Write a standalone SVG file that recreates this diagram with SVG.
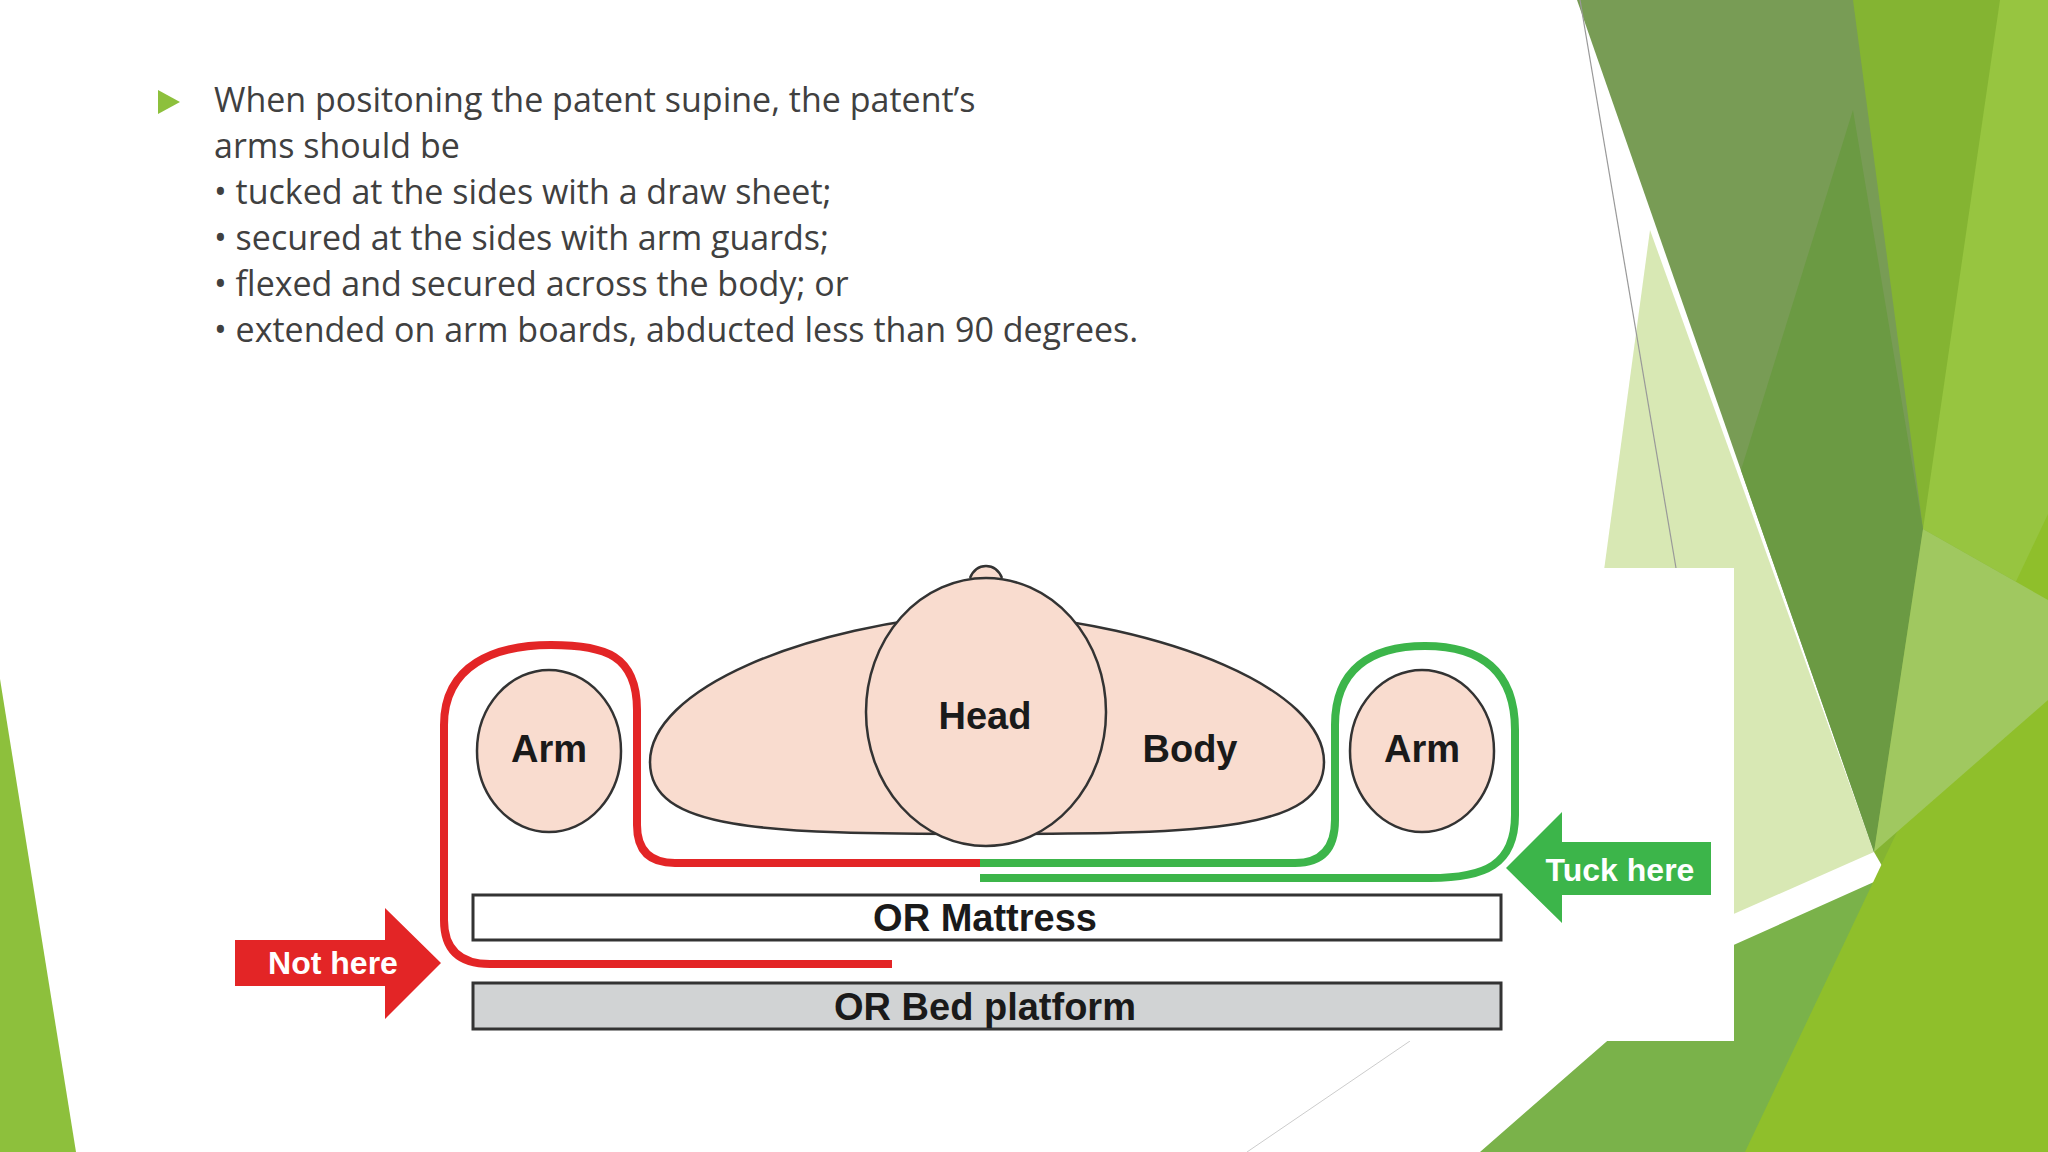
<svg xmlns="http://www.w3.org/2000/svg" width="2048" height="1152" viewBox="0 0 2048 1152">
<style>
.t{font-family:"Open Sans","DejaVu Sans",sans-serif;font-size:34px;fill:#404040}
.lb{font-family:"Liberation Sans",Arial,sans-serif;font-weight:bold;font-size:38px;fill:#1a1a1a;text-anchor:middle}
.wl{font-family:"Liberation Sans",Arial,sans-serif;font-weight:bold;font-size:32px;fill:#fff;text-anchor:middle}
.sk{fill:#f9dccf;stroke:#333;stroke-width:2.5}
</style>
<rect width="2048" height="1152" fill="#fff"/>
<g id="background">
<polygon points="0,679 76,1152 0,1152" fill="#8dc03c"/>
<polygon points="1823,0 2048,0 2048,1152 1874,852" fill="#84b432"/>
<polygon points="2000,0 2048,0 2048,600 1923,529" fill="#97c540"/>
<polygon points="1650,230 1874,852 1720,920 1600,600" fill="#d8e8b4"/>
<polygon points="1577,0 1853,0 1923,529 1874,852" fill="#789c55"/>
<polygon points="1741,470 1853,110 1923,529 1874,852" fill="#6b9a43"/>
<polygon points="1480,1152 1700,960 1923,860 2048,600 2048,1152" fill="#7ab24a"/>
<polygon points="2048,514 1745,1152 2048,1152" fill="#8fbf2b"/>
<polygon points="1923,529 2048,600 2048,700 1874,852" fill="#a0c860"/>
<line x1="1580" y1="0" x2="1676" y2="568" stroke="#999" stroke-width="1.2"/>
<line x1="1410" y1="1041" x2="1247" y2="1152" stroke="#ccc" stroke-width="1"/>
</g>
<g id="text">
<polygon points="158,90 180,102 158,114" fill="#8dc03c"/>
<text class="t" x="214" y="112">When positoning the patent supine, the patent’s</text>
<text class="t" x="214" y="158">arms should be</text>
<text class="t" x="214" y="204">• tucked at the sides with a draw sheet;</text>
<text class="t" x="214" y="250">• secured at the sides with arm guards;</text>
<text class="t" x="214" y="296">• flexed and secured across the body; or</text>
<text class="t" x="214" y="342">• extended on arm boards, abducted less than 90 degrees.</text>
</g>
<rect x="228" y="568" width="1506" height="473" fill="#fff"/>
<g id="body"><path class="sk" d="M985,834 C760,834 650,830 650,762 C650,690 800,625 985,612 C1170,625 1324,690 1324,762 C1324,830 1210,834 985,834 Z"/>
<text class="lb" x="1190" y="762">Body</text></g>
<g id="head"><path d="M970,578 Q975,566 986,566 Q997,566 1002,578" fill="#f9dccf" stroke="#333" stroke-width="2.5"/>
<ellipse class="sk" cx="986" cy="712" rx="120" ry="134"/><text class="lb" x="985" y="729">Head</text></g>
<g id="arm-left"><ellipse class="sk" cx="549" cy="751" rx="72" ry="81"/><text class="lb" x="549" y="762">Arm</text></g>
<g id="arm-right"><ellipse class="sk" cx="1422" cy="751" rx="72" ry="81"/><text class="lb" x="1422" y="762">Arm</text></g>
<g id="mattress"><rect x="473" y="895" width="1028" height="45" fill="#fff" stroke="#333" stroke-width="3"/><text class="lb" x="985" y="931">OR Mattress</text></g>
<g id="platform"><rect x="473" y="983" width="1028" height="46" fill="#d1d3d4" stroke="#333" stroke-width="3"/><text class="lb" x="985" y="1020">OR Bed platform</text></g>
<g id="connectors" fill="none" stroke-width="8">
<path d="M980,863 L675,863 Q637,863 637,825 L637,710 C637,655 605,645 551,645 C495,645 444,665 444,725 L444,920 Q444,964 490,964 L892,964" stroke="#e32526"/>
<path d="M980,863 L1295,863 Q1335,863 1335,820 L1335,725 C1335,670 1370,646 1425,646 C1480,646 1515,670 1515,730 L1515,815 C1515,865 1485,878 1430,878 L980,878" stroke="#3cb54a"/>
</g>
<g id="not-here"><polygon points="235,940 385,940 385,908 441,963 385,1019 385,986 235,986" fill="#e32526"/><text class="wl" x="333" y="974">Not here</text></g>
<g id="tuck-here"><polygon points="1506,868 1562,812 1562,842 1711,842 1711,895 1562,895 1562,923" fill="#3cb54a"/><text class="wl" x="1620" y="881">Tuck here</text></g>
</svg>
